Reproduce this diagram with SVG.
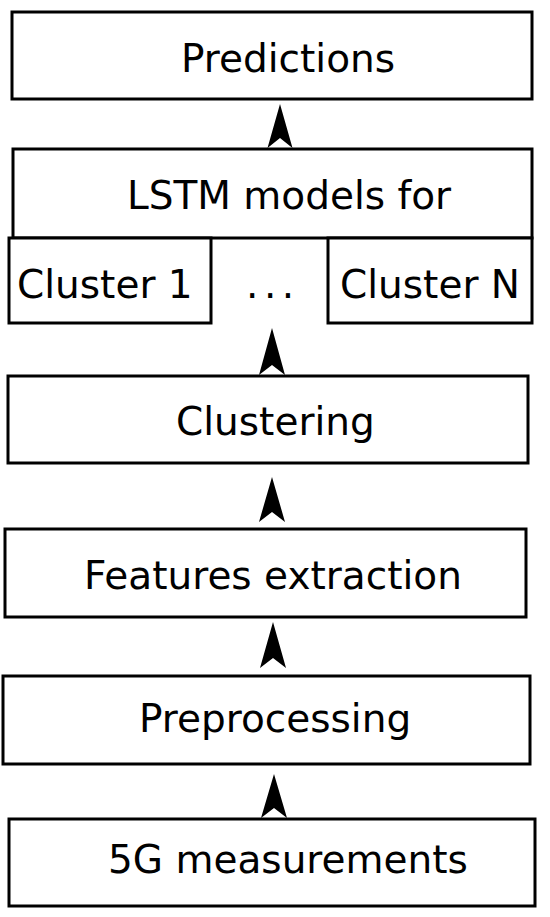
<svg xmlns="http://www.w3.org/2000/svg" width="550" height="917" viewBox="0 0 550 917">
<style>
.box{fill:#fff;stroke:#000;stroke-width:3}
.lbl{font-family:"DejaVu Sans",sans-serif;font-size:39px;fill:#000}
.arr{fill:#000;stroke:none}
</style>
<rect width="550" height="917" fill="#fff"/>
<g id="predictions"><rect class="box" x="12" y="12" width="520" height="87"/><text class="lbl" x="181" y="72">Predictions</text></g>
<g id="lstm"><rect class="box" x="13" y="149" width="519" height="89"/><text class="lbl" x="127" y="209">LSTM models for</text></g>
<g id="cluster1"><rect class="box" x="9" y="238" width="202" height="85"/><text class="lbl" x="17" y="298">Cluster 1</text></g>
<g id="dots"><text class="lbl" x="246" y="298" letter-spacing="5.5">...</text></g>
<g id="clusterN"><rect class="box" x="328" y="238" width="204" height="85"/><text class="lbl" x="340" y="298">Cluster N</text></g>
<g id="clustering"><rect class="box" x="8" y="376" width="520" height="87"/><text class="lbl" x="176" y="435">Clustering</text></g>
<g id="features"><rect class="box" x="5" y="529" width="521" height="88"/><text class="lbl" x="84" y="589">Features extraction</text></g>
<g id="preprocessing"><rect class="box" x="3" y="676" width="527" height="88"/><text class="lbl" x="139" y="732">Preprocessing</text></g>
<g id="measurements"><rect class="box" x="9" y="819" width="526" height="87"/><text class="lbl" x="108" y="873">5G measurements</text></g>
<g id="connectors">
<path class="arr" d="M280,104 L292.5,148 L280,138 L267.5,148 Z"/>
<path class="arr" d="M272,328 L285,375 L272,365 L259,375 Z"/>
<path class="arr" d="M272,477 L285,522 L272,512 L259,522 Z"/>
<path class="arr" d="M273,622 L286,668 L273,658 L260,668 Z"/>
<path class="arr" d="M274,774 L287,818 L274,808 L261,818 Z"/>
</g>
</svg>
